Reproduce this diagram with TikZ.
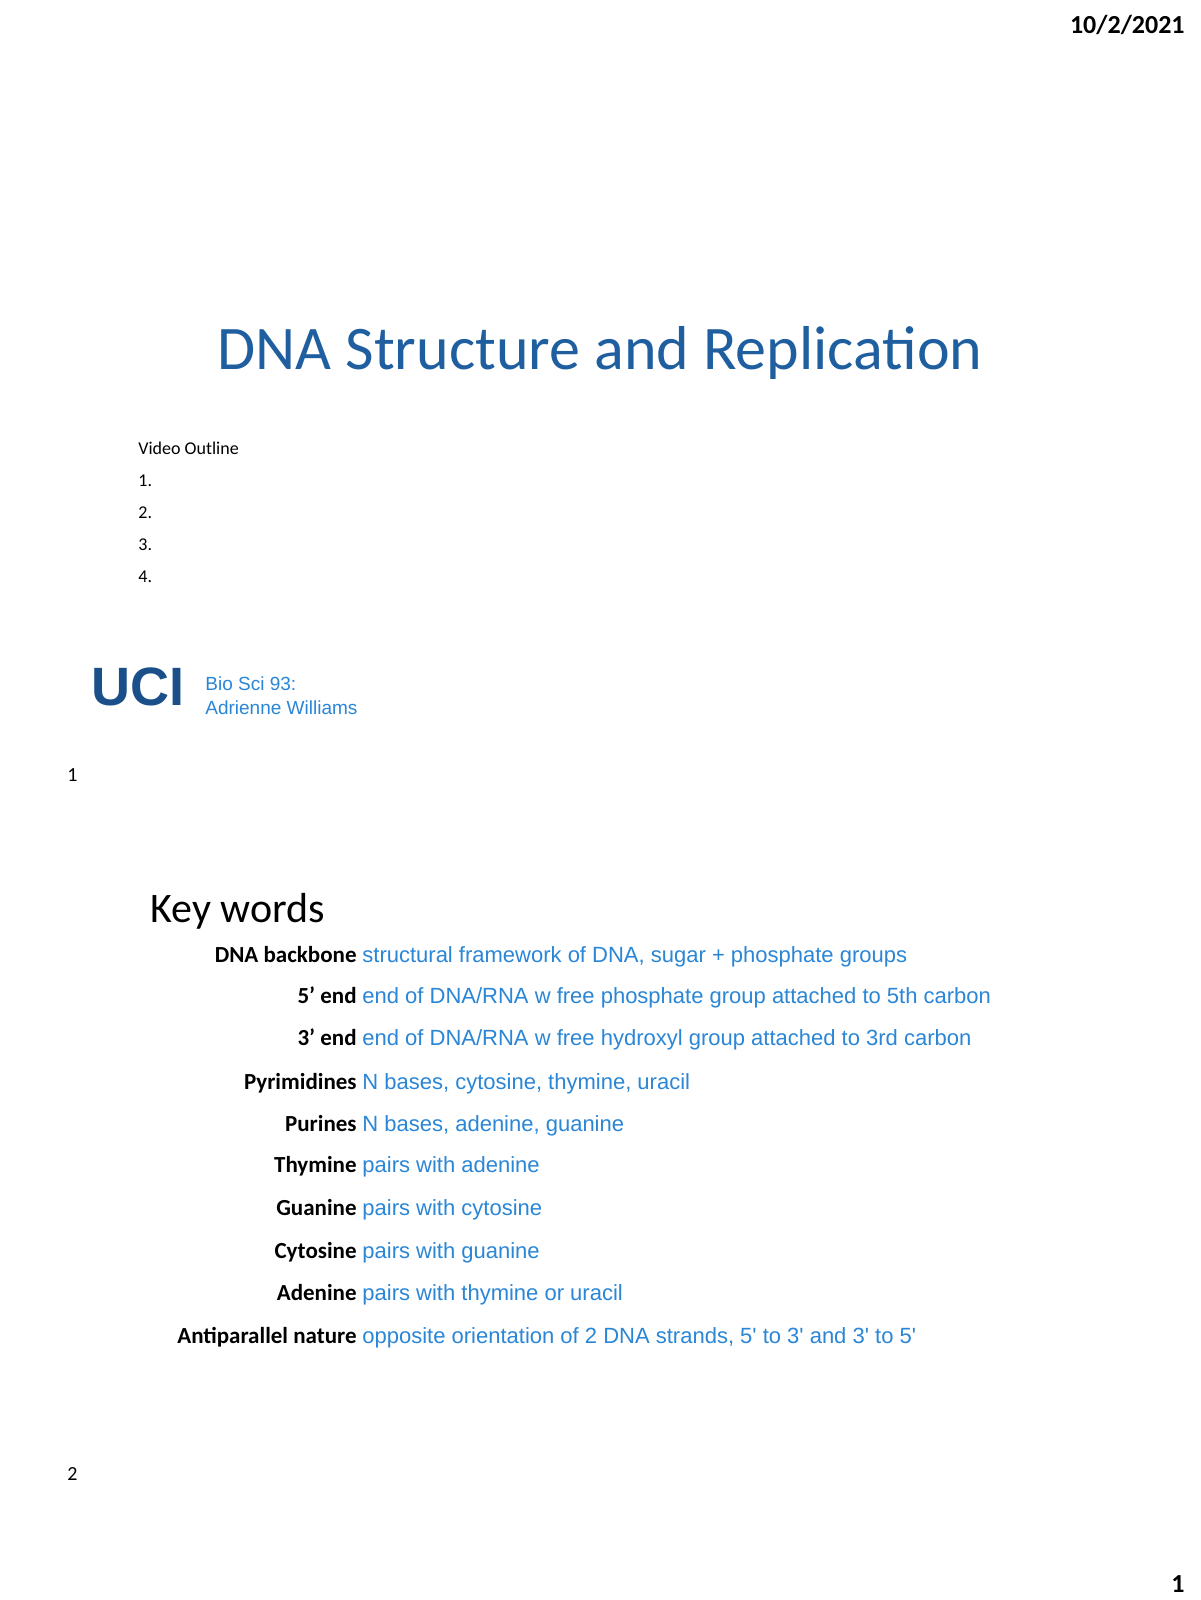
\documentclass[tikz,border=0pt]{standalone}
\usepackage{fontspec}
\setmainfont{Carlito}
\newfontfamily\arial{Liberation Sans}
\definecolor{titleblue}{HTML}{1F5F9F}
\definecolor{defblue}{HTML}{2A86D6}
\definecolor{uciblue}{HTML}{1B4F8A}
\begin{document}
\begin{tikzpicture}[x=0.5pt,y=-0.5pt,
  term/.style={anchor=base east,inner sep=0pt,font=\fontsize{11.5}{13}\selectfont\bfseries},
  defn/.style={anchor=base west,inner sep=0pt,font=\arial\fontsize{11}{13}\selectfont,text=defblue},
  plain/.style={anchor=base west,inner sep=0pt,font=\fontsize{9}{11}\selectfont}]
\useasboundingbox[fill=white] (0,0) rectangle (1200,1600);
\node[anchor=base east,inner sep=0pt,font=\fontsize{13}{15}\selectfont\bfseries] (date) at (1185,34) {10/2/2021};
\node[anchor=base,inner sep=0pt,font=\fontsize{31}{36}\selectfont,text=titleblue] (title) at (600,369) {DNA Structure and Replication};
\node[plain] (vo) at (138,454) {Video Outline};
\node[plain] (o1) at (138,486) {1.};
\node[plain] (o2) at (138,518) {2.};
\node[plain] (o3) at (138,550) {3.};
\node[plain] (o4) at (138,582) {4.};
\node[anchor=base west,inner sep=0pt,font=\arial\bfseries\fontsize{27}{30}\selectfont,text=uciblue] (uci) at (91,705) {UCI};
\node[anchor=base west,inner sep=0pt,font=\arial\fontsize{9.5}{11}\selectfont,text=defblue,align=left] (bio) at (205,690) {Bio Sci 93:};
\node[anchor=base west,inner sep=0pt,font=\arial\fontsize{9.5}{11}\selectfont,text=defblue] (aw) at (205,714) {Adrienne Williams};
\node[plain,font=\fontsize{10}{12}\selectfont] (p1) at (67,781) {1};
\node[anchor=base west,inner sep=0pt,font=\fontsize{21}{24}\selectfont] (kw) at (150,922) {Key words};
\foreach \y/\t/\d [count=\i] in {
 962/DNA backbone/{structural framework of DNA, sugar + phosphate groups},
 1003/5\textquoteright{} end/{end of DNA/RNA w free phosphate group attached to 5th carbon},
 1045/3\textquoteright{} end/{end of DNA/RNA w free hydroxyl group attached to 3rd carbon},
 1089/Pyrimidines/{N bases, cytosine, thymine, uracil},
 1131/Purines/{N bases, adenine, guanine},
 1172/Thymine/{pairs with adenine},
 1215/Guanine/{pairs with cytosine},
 1258/Cytosine/{pairs with guanine},
 1300/Adenine/{pairs with thymine or uracil},
 1343/Antiparallel nature/{opposite orientation of 2 DNA strands, 5' to 3' and 3' to 5'}}
{
 \node[term] (t\i) at (357,\y) {\t};
 \node[defn] (d\i) at (362,\y) {\d};
}
\node[plain,font=\fontsize{10}{12}\selectfont] (p2) at (67,1480) {2};
\node[anchor=base east,inner sep=0pt,font=\fontsize{13}{15}\selectfont\bfseries] (p3) at (1185,1592) {1};
\end{tikzpicture}
\end{document}
